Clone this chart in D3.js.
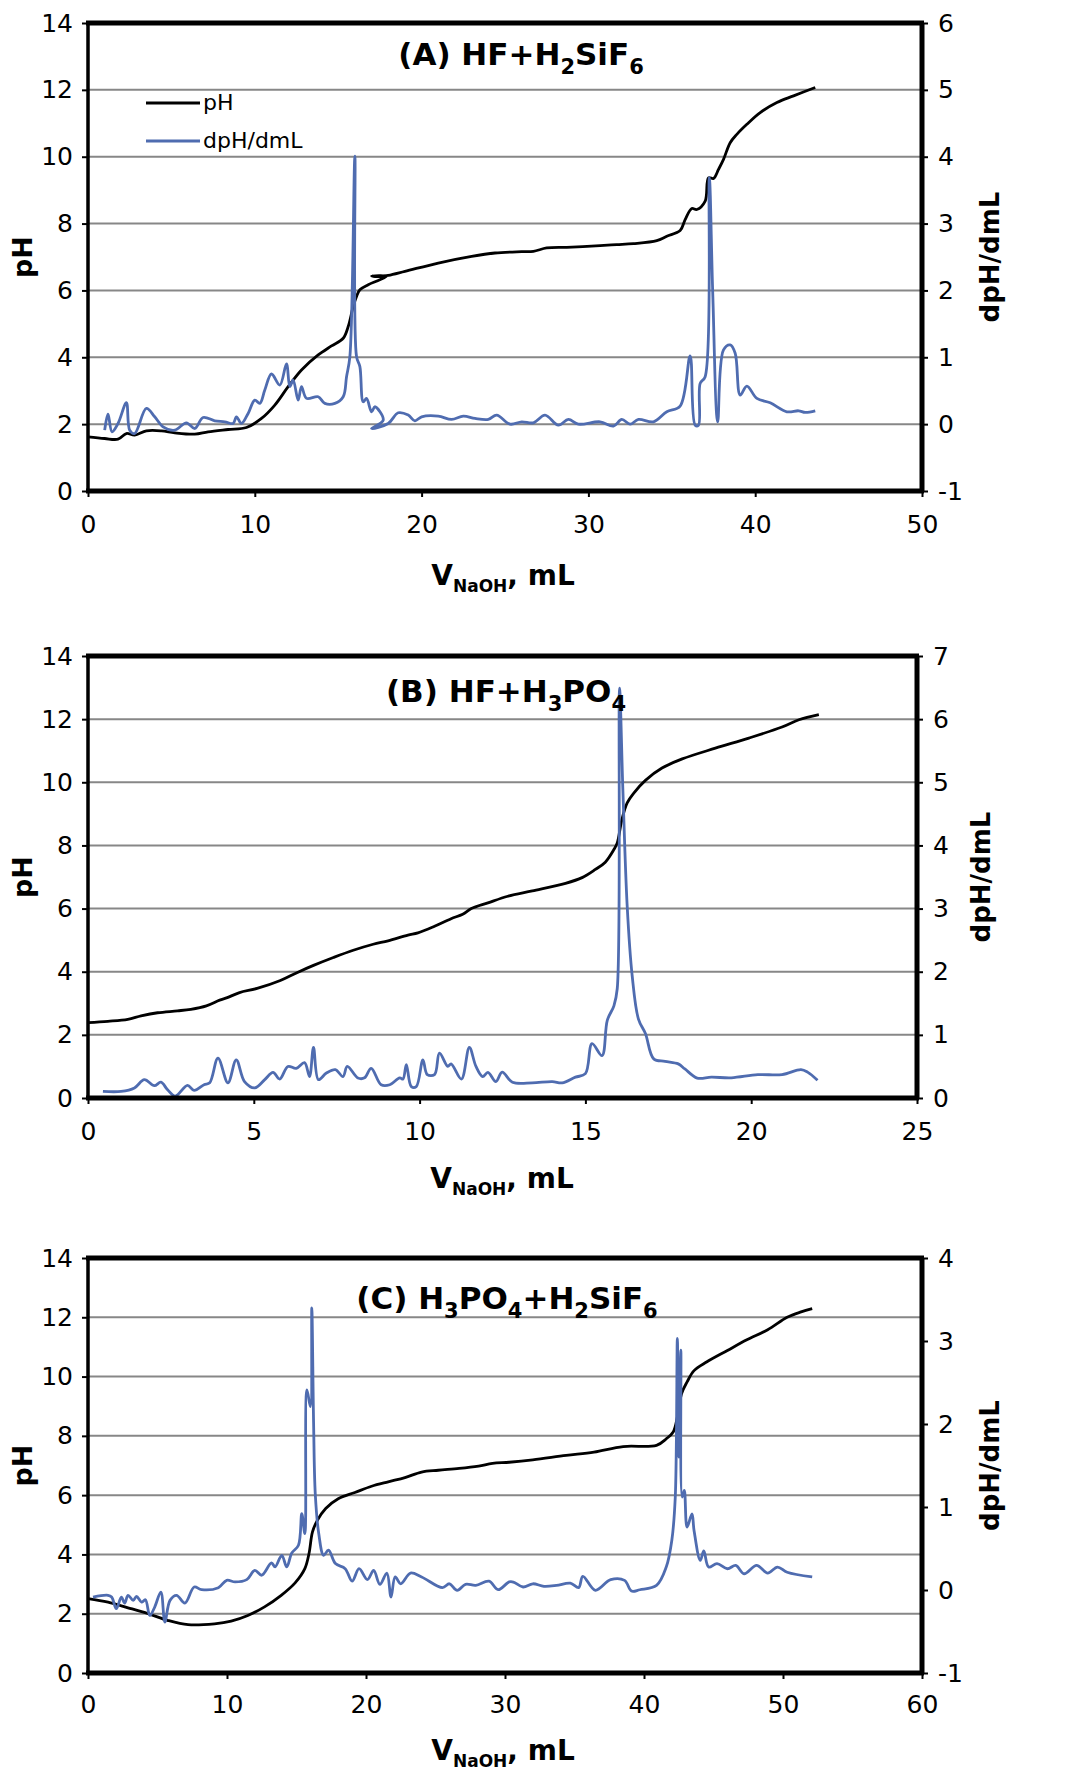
<!DOCTYPE html>
<html>
<head>
<meta charset="utf-8">
<script src="https://cdn.jsdelivr.net/npm/d3@7"></script>
<style>
  body { margin: 0; background: #fff; }
</style>
</head>
<body>
<svg id="chart" width="1090" height="1788"></svg>
<script>
// Titration curves.
// Each point is [V NaOH (mL), value].

// (A) HF + H2SiF6
var phA = [[0,1.62],[1.0,1.57],[1.8,1.55],[2.3,1.72],[2.8,1.67],[3.5,1.8],[4.4,1.8],[5.2,1.74],[6.4,1.7],
  [7.2,1.77],[8.4,1.84],[9.5,1.9],[10.4,2.17],[11.2,2.57],[12.0,3.12],[12.8,3.62],[13.8,4.07],[14.6,4.34],
  [15.3,4.57],[15.6,4.92],[15.9,5.52],[16.1,5.82],[16.3,6.02],[16.8,6.17],[17.4,6.3],[17.9,6.43],[17.0,6.43],
  [17.3,6.41],[18.0,6.45],[19.0,6.57],[21.0,6.82],[23.0,7.02],[24.4,7.12],[26.0,7.16],[26.7,7.17],[27.5,7.27],
  [28.7,7.29],[30.7,7.34],[31.7,7.37],[32.7,7.4],[34.1,7.49],[34.7,7.62],[35.5,7.79],[35.8,8.12],[36.2,8.45],
  [36.5,8.42],[37.0,8.67],[37.2,9.37],[37.5,9.35],[37.8,9.62],[38.1,9.92],[38.5,10.42],[38.9,10.67],
  [39.5,10.97],[40.3,11.32],[41.3,11.62],[42.3,11.82],[43.6,12.07]];
var dA = [[1.0,-0.09],[1.2,0.15],[1.44,-0.115],[1.8,0.01],[2.3,0.32],[2.5,-0.09],[2.8,-0.14],[3.5,0.235],
  [4.0,0.11],[4.5,-0.04],[5.2,-0.09],[5.9,0.02],[6.4,-0.065],[6.9,0.1],[7.6,0.05],[8.2,0.035],[8.7,0.01],
  [8.9,0.11],[9.2,0.01],[9.6,0.16],[10.0,0.36],[10.3,0.31],[10.6,0.51],[11.0,0.75],[11.5,0.585],[11.9,0.9],
  [12.1,0.56],[12.3,0.66],[12.6,0.36],[12.8,0.56],[13.1,0.385],[13.8,0.41],[14.2,0.31],[14.8,0.31],
  [15.3,0.41],[15.5,0.71],[15.7,1.01],[16.0,4.01],[16.1,1.01],[16.3,0.86],[16.5,0.335],[16.7,0.385],
  [17.0,0.185],[17.2,0.26],[17.7,0.06],[17.0,-0.065],[18.0,0.01],[18.6,0.17],[19.2,0.135],[19.6,0.05],
  [20.0,0.11],[21.0,0.12],[21.8,0.07],[22.5,0.12],[23.2,0.085],[24.0,0.07],[24.5,0.135],[25.3,0.0],
  [26.0,0.035],[26.7,0.02],[27.4,0.135],[28.2,-0.015],[28.8,0.07],[29.4,0],[30.7,0.035],[31.5,-0.03],
  [32.0,0.07],[32.5,0],[33.0,0.07],[33.9,0.035],[34.7,0.185],[35.5,0.27],[36.1,1.02],[36.4,-0.015],
  [36.6,-0.015],[36.7,0.61],[37.0,0.71],[37.25,3.685],[37.45,2.0],[37.75,0.035],[38.1,1.11],[38.5,1.185],
  [38.8,1.06],[39.1,0.435],[39.5,0.57],[40.1,0.385],[40.9,0.32],[41.9,0.185],[42.6,0.2],[43.0,0.175],
  [43.6,0.2]];

// (B) HF + H3PO4
var phB = [[0,2.39],[0.6,2.43],[1.2,2.49],[1.6,2.6],[2.1,2.7],[2.7,2.76],[3.1,2.81],[3.57,2.92],[3.97,3.1],
  [4.2,3.18],[4.57,3.34],[5.1,3.47],[5.8,3.72],[6.3,3.97],[6.8,4.2],[7.4,4.45],[8.0,4.68],[8.6,4.87],
  [9.05,4.98],[9.65,5.16],[9.95,5.23],[10.45,5.44],[10.95,5.68],[11.3,5.82],[11.56,6.0],[12.06,6.18],
  [12.66,6.39],[13.4,6.56],[14.4,6.8],[14.9,6.98],[15.3,7.24],[15.6,7.47],[15.86,7.87],[15.96,8.08],
  [16.1,8.82],[16.26,9.35],[16.46,9.66],[16.81,10.06],[17.31,10.45],[17.92,10.74],[18.92,11.08],
  [19.93,11.4],[20.93,11.75],[21.44,11.98],[22.04,12.14]];
var dB = [[0.45,0.105],[1.0,0.105],[1.4,0.16],[1.7,0.29],[2.0,0.195],[2.2,0.25],[2.4,0.13],[2.63,0.03],
  [3.0,0.2],[3.2,0.12],[3.5,0.21],[3.67,0.24],[3.92,0.63],[4.22,0.24],[4.47,0.605],[4.72,0.26],[5.03,0.16],
  [5.33,0.29],[5.58,0.405],[5.78,0.3],[6.03,0.5],[6.28,0.47],[6.53,0.56],[6.68,0.34],[6.8,0.8],[6.95,0.29],
  [7.19,0.395],[7.46,0.45],[7.69,0.34],[7.82,0.5],[8.14,0.316],[8.34,0.32],[8.54,0.47],[8.84,0.21],
  [9.1,0.21],[9.4,0.32],[9.5,0.3],[9.6,0.53],[9.75,0.18],[9.9,0.18],[10.1,0.605],[10.23,0.37],[10.45,0.37],
  [10.6,0.71],[10.85,0.5],[10.95,0.54],[11.26,0.3],[11.5,0.8],[11.7,0.5],[11.9,0.34],[12.06,0.405],
  [12.3,0.26],[12.49,0.41],[12.8,0.25],[13.4,0.24],[14.0,0.26],[14.3,0.24],[14.7,0.33],[15.0,0.385],
  [15.2,0.86],[15.5,0.67],[15.66,1.23],[15.86,1.46],[15.96,1.73],[16.03,6.49],[16.13,4.88],[16.26,3.04],
  [16.41,1.94],[16.6,1.25],[16.81,1.02],[17.06,0.62],[17.4,0.58],[17.8,0.54],[18.0,0.46],[18.37,0.316],
  [18.8,0.33],[19.4,0.32],[20.2,0.37],[20.93,0.37],[21.5,0.45],[21.7,0.41],[22.0,0.28]];

// (C) H3PO4 + H2SiF6
var phC = [[0,2.51],[1.44,2.39],[2.88,2.2],[4.33,2.0],[5.77,1.77],[7.2,1.63],[9.1,1.66],[10.3,1.75],
  [11.5,1.94],[12.7,2.23],[13.9,2.62],[14.9,3.04],[15.6,3.52],[15.9,4.03],[16.15,4.76],[16.5,5.15],
  [17.1,5.55],[18.0,5.88],[19.2,6.09],[20.4,6.3],[21.6,6.45],[22.8,6.59],[24.0,6.78],[25.2,6.84],[26.7,6.9],
  [28.1,6.98],[29.1,7.07],[30.3,7.11],[32.0,7.19],[34.4,7.34],[36.4,7.45],[38.5,7.64],[40.9,7.68],
  [41.6,7.9],[42.1,8.13],[42.4,8.63],[42.7,9.42],[43.1,9.82],[43.6,10.2],[44.5,10.49],[46.0,10.88],
  [47.4,11.24],[48.9,11.58],[50.3,12.0],[51.3,12.18],[52.1,12.29]];
var dC = [[0.36,-0.085],[1.44,-0.064],[1.7,-0.085],[2.04,-0.225],[2.4,-0.085],[2.64,-0.157],[2.88,-0.064],
  [3.25,-0.125],[3.49,-0.076],[3.85,-0.146],[4.13,-0.118],[4.45,-0.307],[4.8,-0.205],[5.24,-0.025],
  [5.53,-0.386],[5.9,-0.125],[6.37,-0.064],[6.97,-0.157],[7.64,0.036],[8.17,0.004],[9.38,0.028],
  [9.98,0.117],[10.58,0.097],[11.42,0.125],[12.0,0.236],[12.5,0.178],[13.2,0.326],[13.46,0.278],
  [13.94,0.418],[14.3,0.278],[14.66,0.446],[15.14,0.539],[15.38,0.92],[15.6,0.68],[15.75,2.41],[16.0,2.21],
  [16.1,3.4],[16.23,2.01],[16.35,1.16],[16.6,0.68],[16.95,0.418],[17.3,0.48],[17.8,0.318],[18.5,0.257],
  [19.0,0.107],[19.5,0.257],[20.1,0.125],[20.55,0.236],[21.0,0.068],[21.5,0.204],[21.8,-0.085],[22.1,0.157],
  [22.5,0.075],[23.2,0.204],[24.0,0.157],[25.5,0.028],[26.0,0.075],[26.56,-0.004],[27.16,0.068],[27.9,0.057],
  [28.85,0.107],[29.5,0.004],[30.3,0.097],[30.6,0.096],[31.3,0.036],[32.0,0.075],[32.8,0.044],[33.7,0.055],
  [34.7,0.083],[35.3,0.029],[35.6,0.165],[36.5,-0.004],[37.6,0.125],[38.6,0.116],[39.1,-0.013],[39.7,0.003],
  [40.9,0.055],[41.6,0.276],[42.0,0.597],[42.25,1.12],[42.4,3.03],[42.5,1.6],[42.65,2.89],[42.75,1.12],
  [42.9,1.2],[43.1,0.758],[43.45,0.918],[43.6,0.718],[44.05,0.356],[44.3,0.47],[44.65,0.276],[45.25,0.318],
  [46.0,0.256],[46.6,0.297],[47.2,0.196],[48.1,0.297],[48.9,0.204],[49.6,0.276],[50.3,0.214],[52.1,0.157]];

// Titles: [text, isSubscript]
var titleA = [['(A) HF+H',0],['2',1],['SiF',0],['6',1]];
var titleB = [['(B) HF+H',0],['3',1],['PO',0],['4',1]];
var titleC = [['(C) H',0],['3',1],['PO',0],['4',1],['+H',0],['2',1],['SiF',0],['6',1]];
var xTitle = [['V',0],['NaOH',1],[', mL',0]];
var pHTicks = [0, 2, 4, 6, 8, 10, 12, 14];
var legendLabels = ['pH', 'dpH/dmL'];

var BLUE = '#4f6cb0';
var TICK_FONT = 'DejaVu Sans';
var BOLD_FONT = 'DejaVu Sans';

var svg = d3.select('#chart');

// Writes text made of normal and subscript pieces.
function richText(sel, parts, size, subSize, drop) {
  var down = false;
  parts.forEach(function(pt) {
    var t = sel.append('tspan').text(pt[0]);
    if (pt[1]) {
      t.attr('font-size', subSize).attr('dy', down ? 0 : drop);
      down = true;
    } else {
      t.attr('dy', down ? -drop : 0);
      down = false;
    }
  });
}

function drawPanel(p) {
  var x = d3.scaleLinear().domain([0, p.xMax]).range([p.left, p.right]);
  var yL = d3.scaleLinear().domain([0, 14]).range([p.bottom, p.top]);
  var yR = d3.scaleLinear().domain([p.rMin, p.rMax]).range([p.bottom, p.top]);
  var g = svg.append('g');

  // horizontal gridlines on the pH axis
  g.selectAll('line.grid')
    .data(pHTicks.filter(function(d) { return d > 0 && d < 14; }))
    .enter().append('line')
      .attr('class', 'grid')
      .attr('x1', p.left).attr('x2', p.right)
      .attr('y1', yL).attr('y2', yL)
      .attr('stroke', '#878787').attr('stroke-width', 2);

  var curve = d3.curveCatmullRom.alpha(0.5);
  var linePH = d3.line().curve(curve)
    .x(function(d) { return x(d[0]); })
    .y(function(d) { return yL(d[1]); });
  var lineD = d3.line().curve(curve)
    .x(function(d) { return x(d[0]); })
    .y(function(d) { return yR(d[1]); });

  g.append('path').datum(p.ph)
    .attr('d', linePH).attr('fill', 'none')
    .attr('stroke', '#000').attr('stroke-width', 2.8).attr('stroke-linejoin', 'round');
  g.append('path').datum(p.dph)
    .attr('d', lineD).attr('fill', 'none')
    .attr('stroke', BLUE).attr('stroke-width', 2.8).attr('stroke-linejoin', 'round');

  // axes: ticks and labels
  var fmt = function(d) { return String(d); };
  var axL = g.append('g').attr('transform', 'translate(' + p.left + ',0)')
    .call(d3.axisLeft(yL).tickValues(pHTicks).tickFormat(fmt).tickSize(6).tickPadding(9).tickSizeOuter(0));
  var axR = g.append('g').attr('transform', 'translate(' + p.right + ',0)')
    .call(d3.axisRight(yR).tickValues(d3.range(p.rMin, p.rMax + 1)).tickFormat(fmt).tickSize(6).tickPadding(10).tickSizeOuter(0));
  var axB = g.append('g').attr('transform', 'translate(0,' + p.bottom + ')')
    .call(d3.axisBottom(x).tickValues(d3.range(0, p.xMax + 1, p.xStep)).tickFormat(fmt).tickSize(6).tickPadding(p.xPad).tickSizeOuter(0));
  [axL, axR, axB].forEach(function(a) {
    a.select('.domain').remove();
    a.attr('font-family', TICK_FONT).attr('font-size', 25);
    a.selectAll('line').attr('stroke', '#000').attr('stroke-width', 2);
    a.selectAll('text').attr('fill', '#000');
  });

  // plot box, heavy on top, bottom and right
  g.append('line').attr('x1', p.left - 2).attr('x2', p.right + 2).attr('y1', p.top).attr('y2', p.top)
    .attr('stroke', '#000').attr('stroke-width', 5);
  g.append('line').attr('x1', p.left - 2).attr('x2', p.right + 2).attr('y1', p.bottom).attr('y2', p.bottom)
    .attr('stroke', '#000').attr('stroke-width', 5);
  g.append('line').attr('x1', p.left).attr('x2', p.left).attr('y1', p.top).attr('y2', p.bottom)
    .attr('stroke', '#000').attr('stroke-width', 3.5);
  g.append('line').attr('x1', p.right).attr('x2', p.right).attr('y1', p.top).attr('y2', p.bottom)
    .attr('stroke', '#000').attr('stroke-width', 5);

  // panel title
  var t = g.append('text')
    .attr('x', p.titleX).attr('y', p.titleY)
    .attr('text-anchor', 'middle')
    .attr('font-family', BOLD_FONT).attr('font-weight', 'bold').attr('font-size', 31);
  richText(t, p.title, 31, 21, 9);

  // x axis title
  var xt = g.append('text')
    .attr('x', p.xTitleX).attr('y', p.xTitleY)
    .attr('text-anchor', 'middle')
    .attr('font-family', BOLD_FONT).attr('font-weight', 'bold').attr('font-size', 28);
  richText(xt, xTitle, 28, 17, 7);

  // y axis titles
  var midY = (p.top + p.bottom) / 2;
  g.append('text')
    .attr('transform', 'translate(' + p.yTitleL + ',' + midY + ') rotate(-90)')
    .attr('text-anchor', 'middle').attr('dominant-baseline', 'central')
    .attr('font-family', BOLD_FONT).attr('font-weight', 'bold').attr('font-size', 27)
    .text('pH');
  g.append('text')
    .attr('transform', 'translate(' + p.yTitleR + ',' + midY + ') rotate(-90)')
    .attr('text-anchor', 'middle').attr('dominant-baseline', 'central')
    .attr('font-family', BOLD_FONT).attr('font-weight', 'bold').attr('font-size', 26)
    .text('dpH/dmL');

  // legend (first panel only)
  if (p.legend) {
    var lg = g.append('g');
    [{c: '#000', y: 103}, {c: BLUE, y: 141}].forEach(function(it, i) {
      lg.append('line').attr('x1', 146).attr('x2', 200).attr('y1', it.y).attr('y2', it.y)
        .attr('stroke', it.c).attr('stroke-width', 2.8);
      lg.append('text').attr('x', 203).attr('y', it.y + 7)
        .attr('font-family', TICK_FONT).attr('font-size', 22)
        .text(legendLabels[i]);
    });
  }
}

drawPanel({
  left: 88, right: 922, top: 23, bottom: 491, xMax: 50, xStep: 10, rMin: -1, rMax: 6, xPad: 18,
  ph: phA, dph: dA, title: titleA, titleX: 521, titleY: 65,
  xTitleX: 503, xTitleY: 585, yTitleL: 22, yTitleR: 990, legend: true
});
drawPanel({
  left: 88, right: 917, top: 656, bottom: 1098, xMax: 25, xStep: 5, rMin: 0, rMax: 7, xPad: 18,
  ph: phB, dph: dB, title: titleB, titleX: 506, titleY: 702,
  xTitleX: 502, xTitleY: 1188, yTitleL: 22, yTitleR: 981, legend: false
});
drawPanel({
  left: 88, right: 922, top: 1258, bottom: 1673, xMax: 60, xStep: 10, rMin: -1, rMax: 4, xPad: 16,
  ph: phC, dph: dC, title: titleC, titleX: 507, titleY: 1309,
  xTitleX: 503, xTitleY: 1760, yTitleL: 22, yTitleR: 990, legend: false
});
</script>
</body>
</html>
